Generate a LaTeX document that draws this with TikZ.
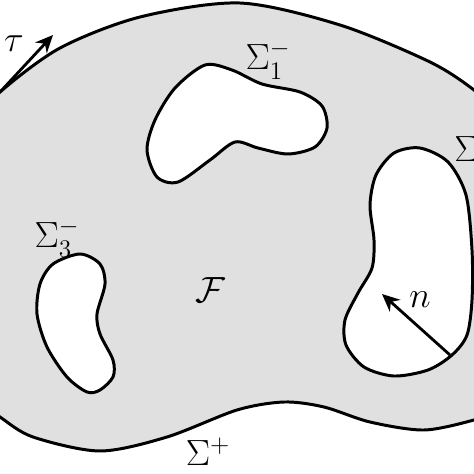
\documentclass[tikz,border=0pt]{standalone}
\usepackage{amsmath}
\usetikzlibrary{positioning}
\usetikzlibrary{arrows.meta}
\definecolor{grisF}{rgb}{0.878,0.878,0.878}
\tikzstyle{vec} = [draw, line width=1.6pt, -{Stealth[length=10pt,width=9pt]}]

\begin{document}
\begin{tikzpicture}[x=0.02cm, y=-0.02cm, line width=1.7pt,
				lab/.style = {inner sep=0pt, font=\fontsize{22}{26}\selectfont},
				hole/.style = {draw, fill=white}]

				\useasboundingbox (0,0) rectangle (474,474);
				\clip (0,0) rectangle (474,474);

				% Domain F
				\fill[grisF] plot[smooth] coordinates {(-25,122) (0,92) (60,48) (140,17) (240,3) (340,25) (430,62) (474,90) (500,115)}
					-- (520,115) -- (520,410)
					-- plot[smooth] coordinates {(500,410) (474,420) (424,430) (370,422) (324,407) (284,402) (237,410) (167,437) (100,451) (33,437) (0,417) (-25,398)}
					-- cycle;

				% Outer boundary
				\draw plot[smooth] coordinates {(-25,122) (0,92) (60,48) (140,17) (240,3) (340,25) (430,62) (474,90) (500,115)};
				\draw plot[smooth] coordinates {(500,410) (474,420) (424,430) (370,422) (324,407) (284,402) (237,410) (167,437) (100,451) (33,437) (0,417) (-25,398)};

				% Hole 1
				\draw[hole] plot[smooth cycle] coordinates {(205,65) (232,70) (262,84) (300,92) (322,106) (327,128) (315,147) (288,154) (258,148) (235,142) (210,160) (178,182) (157,177) (147,150) (155,120) (175,88)};

				% Hole 2
				\draw[hole] plot[smooth cycle] coordinates {(420,148) (448,162) (466,195) (472,250) (472,300) (467,335) (452,355) (428,370) (394,376) (364,367) (346,345) (345,320) (358,293) (372,268) (374,240) (370,205) (376,175) (394,153)};

				% Hole 3
				\draw[hole] plot[smooth cycle] coordinates {(80,254) (100,264) (105,284) (97,314) (100,334) (113,360) (113,377) (100,390) (87,392) (67,377) (47,347) (37,314) (40,284) (53,264)};

				% Vectors
				\coordinate (tbase) at (0,92);
				\coordinate (ttip) at (53,35);
				\draw[vec] (tbase) -- (ttip);
				\coordinate (nbase) at (450,355);
				\coordinate (ntip) at (382,294);
				\draw[vec] (nbase) -- (ntip);

				% Labels
				\node[lab] (tau) at (14,44) {$\tau$};
				\node[lab] (sig1) at (268,60) {$\Sigma_1^-$};
				\node[lab, anchor=west] (sig2) at (453,152) {$\Sigma_2^-$};
				\node[lab] (sig3) at (57,238) {$\Sigma_3^-$};
				\node[lab] (dom) at (210,290) {$\mathcal{F}$};
				\node[lab] (nlab) at (420,300) {$n$};
				\node[lab] (sigp) at (208,452) {$\Sigma^+$};

		\end{tikzpicture}
\end{document}
